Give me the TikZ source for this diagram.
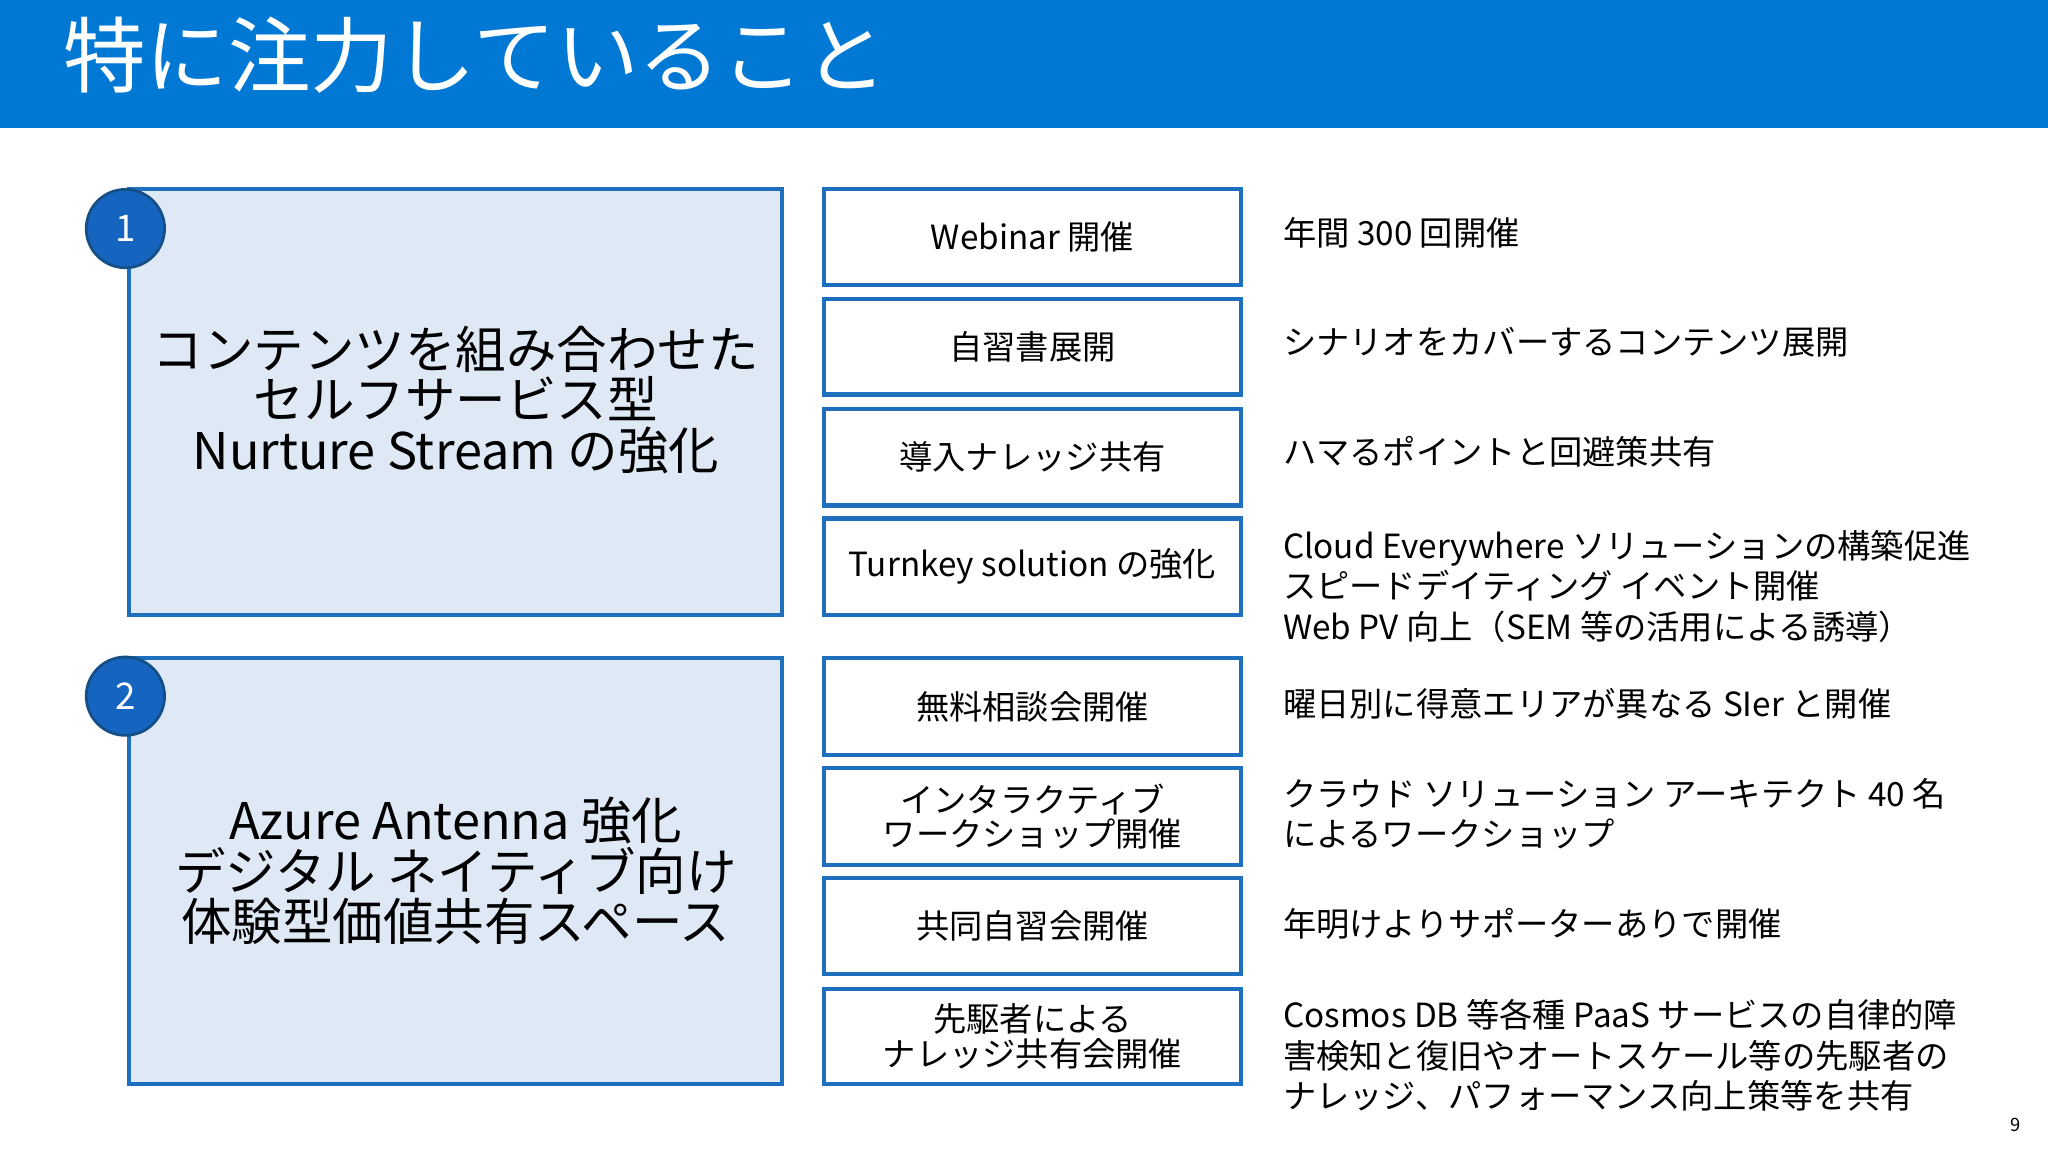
\documentclass[tikz,border=0pt]{standalone}
\usepackage{fontspec}
\setmainfont{Noto Sans CJK JP}
\definecolor{bar}{HTML}{0078D4}
\definecolor{edge}{HTML}{1F6FBF}
\definecolor{lite}{HTML}{DFE8F5}
\definecolor{dot}{HTML}{1565C0}
\tikzset{
 big/.style={draw=edge,line width=1.8pt,fill=lite},
 mid/.style={draw=edge,line width=1.8pt,fill=white},
 num/.style={circle,draw=edge!70!black,line width=1.2pt,fill=dot,text=white,minimum size=1.2cm,inner sep=0pt,font=\fontsize{16}{16}\selectfont},
 bigtxt/.style={align=center,font=\fontsize{22}{22}\selectfont},
 midtxt/.style={align=center,font=\fontsize{14.5}{15}\selectfont},
 rtxt/.style={anchor=west,align=left,font=\fontsize{14.5}{17.6}\selectfont,inner sep=0pt}
}
\begin{document}
\begin{tikzpicture}[x=0.02cm,y=-0.02cm]
\useasboundingbox (0,0) rectangle (1568,882);
\fill[bar] (0,0) rectangle (1568,98);
\node[anchor=west,text=white,font=\fontsize{36}{36}\selectfont,inner sep=0pt] (title) at (48,42) {特に注力していること};
\draw[big] (99,145) rectangle (599,471);
\draw[big] (99,504) rectangle (599,830);
\node[bigtxt] (t1) at (349,306) {コンテンツを組み合わせた\\セルフサービス型\\Nurture Stream の強化};
\node[bigtxt] (t2) at (349,667) {Azure Antenna 強化\\デジタル ネイティブ向け\\体験型価値共有スペース};
\node[num] (n1) at (96,175) {1};
\node[num] (n2) at (96,533) {2};
\foreach \ya/\yb/\t/\nm in {145/218/{Webinar 開催}/m1,229/302/{自習書展開}/m2,313/387/{導入ナレッジ共有}/m3,397/471/{Turnkey solution の強化}/m4,504/578/{無料相談会開催}/m5,588/662/{インタラクティブ\\ワークショップ開催}/m6,672/746/{共同自習会開催}/m7,757/830/{先駆者による\\ナレッジ共有会開催}/m8}{
 \draw[mid] (631,\ya) rectangle (950,\yb);
 \node[midtxt] (\nm) at (790.5,{(\ya+\yb)/2}) {\t};
}
\node[rtxt] (r1) at (982,178) {年間 300 回開催};
\node[rtxt] (r2) at (982,262) {シナリオをカバーするコンテンツ展開};
\node[rtxt] (r3) at (982,346) {ハマるポイントと回避策共有};
\node[rtxt] (r4) at (982,449) {Cloud Everywhere ソリューションの構築促進\\スピードデイティング イベント開催\\Web PV 向上（SEM 等の活用による誘導）};
\node[rtxt] (r5) at (982,539) {曜日別に得意エリアが異なる SIer と開催};
\node[rtxt] (r6) at (982,623) {クラウド ソリューション アーキテクト 40 名\\によるワークショップ};
\node[rtxt] (r7) at (982,707) {年明けよりサポーターありで開催};
\node[rtxt] (r8) at (982,808) {Cosmos DB 等各種 PaaS サービスの自律的障\\害検知と復旧やオートスケール等の先駆者の\\ナレッジ、パフォーマンス向上策等を共有};
\node[font=\fontsize{8}{8}\selectfont,inner sep=0pt] (pg) at (1543,861) {9};
\end{tikzpicture}
\end{document}
